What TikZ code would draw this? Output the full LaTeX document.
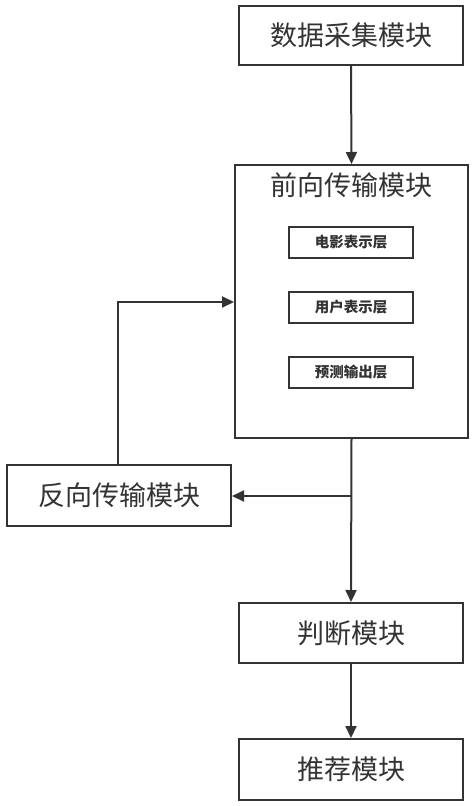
\documentclass[tikz,border=0pt]{standalone}
\usepackage{fontspec}
\newfontfamily\cjk{Noto Sans CJK SC}
\usetikzlibrary{arrows.meta}
\definecolor{ln}{HTML}{333333}
\begin{document}
\begin{tikzpicture}[x=1pt,y=-1pt,
  mod/.style={draw=ln,line width=2pt,inner sep=0pt,font=\cjk\fontsize{27}{31}\selectfont,text=ln},
  layer/.style={draw=ln,line width=1.7pt,inner sep=0pt,minimum width=124pt,minimum height=31pt,font=\cjk\bfseries\fontsize{14.5}{17}\selectfont,text=ln},
  conn/.style={draw=ln,line width=2pt,-{Triangle[length=12pt,width=11pt]}}]
\useasboundingbox (0,0) rectangle (474,806);
\node[mod,minimum width=224pt,minimum height=59pt] (a) at (351,35.5) {数据采集模块};
\node[mod,minimum width=233pt,minimum height=273pt] (f) at (351.5,301.5) {};
\node[font=\cjk\fontsize{27}{31}\selectfont,text=ln] (ft) at (351.5,185) {前向传输模块};
\node[layer] (l1) at (351,242.5) {电影表示层};
\node[layer] (l2) at (351,307.5) {用户表示层};
\node[layer] (l3) at (351,372.5) {预测输出层};
\node[mod,minimum width=224pt,minimum height=61pt] (r) at (119,495.5) {反向传输模块};
\node[mod,minimum width=224pt,minimum height=60pt] (j) at (351,633) {判断模块};
\node[mod,minimum width=224pt,minimum height=61pt] (t) at (351,769.5) {推荐模块};
\coordinate (br) at (351,496);
\draw[conn] (r.north -| 118,0) -- (118,302) -- (f.west |- 0,302);
\draw[conn] (a.south) -- (f.north);
\draw[conn] (f.south) -- (j.north);
\draw[conn] (br) -- (r.east |- br);
\draw[conn] (j.south) -- (t.north);
\end{tikzpicture}
\end{document}
